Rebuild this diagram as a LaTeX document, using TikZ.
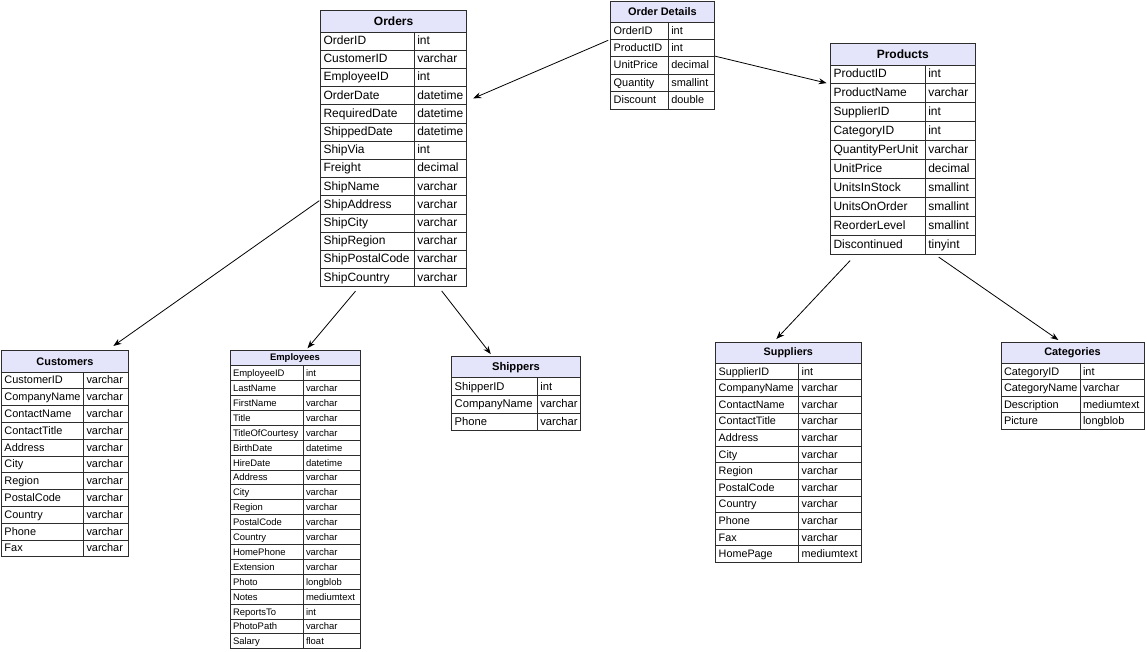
\documentclass[tikz,border=0pt]{standalone}
\usepackage{fontspec}
\setmainfont{Liberation Sans}
\usetikzlibrary{calc}
\usetikzlibrary{arrows.meta}
\definecolor{tabline}{RGB}{45,45,45}
\definecolor{hdrfill}{RGB}{228,228,250}
\tikzset{
    erd/.style={
            x=0.75pt,y=-0.75pt,
            tablebox/.style={draw=tabline,line width=0.75pt,inner sep=0pt,outer sep=0pt},
            tablehead/.style={draw=tabline,fill=hdrfill,line width=0.75pt,inner sep=0pt,outer sep=0pt},
            field/.style={draw=tabline,line width=0.75pt,inner xsep=2.25pt,inner ysep=0pt,outer sep=0pt,
                    align=left,text height=0.72em,text depth=0.2em},
            fk/.style={-{Stealth[length=6pt,width=4.5pt]},line width=0.6pt}
        }
    }
% name, top left, field width, type width, head height, row height, font size, title, rows
\newcommand{\dbtable}[9]{%
    \begin{scope}[font=\fontsize{#7pt}{#7pt}\selectfont]
    \pgfmathsetlengthmacro\tabw{(#3+#4)*0.75pt}
    \pgfmathsetlengthmacro\fldw{(#3-6)*0.75pt}
    \pgfmathsetlengthmacro\typw{(#4-6)*0.75pt}
    \pgfmathsetlengthmacro\hdh{#5*0.75pt}
    \pgfmathsetlengthmacro\rowh{#6*0.75pt}
    \node[tablehead,minimum width=\tabw,minimum height=\hdh,anchor=north west] (#1-head) at #2 {\bfseries #8};
    \foreach \fld/\typ [count=\i] in {#9} {
        \node[field,text width=\fldw,minimum height=\rowh,anchor=north west] (#1-f\i) at ($(#1-head.south west)+(0,{(\i-1)*#6})$) {\fld};
        \node[field,text width=\typw,minimum height=\rowh,anchor=north west] (#1-t\i) at (#1-f\i.north east) {\typ};
        \xdef\nrows{\i}
    }
    \pgfmathsetlengthmacro\tabh{(#5+\nrows*#6)*0.75pt}
    \node[tablebox,minimum width=\tabw,minimum height=\tabh,anchor=north west] (#1) at #2 {};
    \end{scope}
}

\begin{document}
\begin{tikzpicture}[erd]
    \fill[white] (0,0) rectangle (1147,651);
    \dbtable{orders}{(320.5,10.5)}{93.8}{52.4}{21.5}{18.2}{9}{Orders}{OrderID/int, CustomerID/varchar,
        EmployeeID/int, OrderDate/datetime, RequiredDate/datetime, ShippedDate/datetime, ShipVia/int,
        Freight/decimal, ShipName/varchar, ShipAddress/varchar, ShipCity/varchar, ShipRegion/varchar,
        ShipPostalCode/varchar, ShipCountry/varchar}
    \dbtable{od}{(610.7,1)}{57.6}{45.7}{21}{17.4}{8.2}{Order Details}{OrderID/int, ProductID/int,
        UnitPrice/decimal, Quantity/smallint, Discount/double}
    \dbtable{products}{(830.5,43.7)}{94.8}{49.7}{21.3}{18.95}{9}{Products}{ProductID/int,
        ProductName/varchar, SupplierID/int, CategoryID/int, QuantityPerUnit/varchar, UnitPrice/decimal,
        UnitsInStock/smallint, UnitsOnOrder/smallint, ReorderLevel/smallint, Discontinued/tinyint}
    \dbtable{customers}{(1.5,350.7)}{82}{45}{21.3}{16.8}{8.2}{Customers}{CustomerID/varchar,
        CompanyName/varchar, ContactName/varchar, ContactTitle/varchar, Address/varchar, City/varchar,
        Region/varchar, PostalCode/varchar, Country/varchar, Phone/varchar, Fax/varchar}
    \dbtable{employees}{(230,350.7)}{73}{57}{15}{14.9}{7.1}{Employees}{EmployeeID/int, LastName/varchar,
        FirstName/varchar, Title/varchar, TitleOfCourtesy/varchar, BirthDate/datetime, HireDate/datetime,
        Address/varchar, City/varchar, Region/varchar, PostalCode/varchar, Country/varchar,
        HomePhone/varchar, Extension/varchar, Photo/longblob, Notes/mediumtext, ReportsTo/int,
        PhotoPath/varchar, Salary/float}
    \dbtable{shippers}{(451.7,356.7)}{85.6}{43}{21}{17.7}{8.4}{Shippers}{ShipperID/int,
        CompanyName/varchar, Phone/varchar}
    \dbtable{suppliers}{(715.7,342.7)}{83}{62.3}{20.6}{16.6}{8.1}{Suppliers}{SupplierID/int,
        CompanyName/varchar, ContactName/varchar, ContactTitle/varchar, Address/varchar, City/varchar,
        Region/varchar, PostalCode/varchar, Country/varchar, Phone/varchar, Fax/varchar,
        HomePage/mediumtext}
    \dbtable{categories}{(1001,342.3)}{79}{64}{21}{16.5}{8.2}{Categories}{CategoryID/int,
        CategoryName/varchar, Description/mediumtext, Picture/longblob}
    \draw [fk,shorten <=2pt,shorten >=5.3pt] (od.163.5) -- (orders.33);
    \draw [fk,shorten <=0.7pt,shorten >=3pt] (od.-1) -- (products.138);
    \draw [fk,shorten <=1.1pt,shorten >=6.2pt] (orders.215) -- (customers.68.7);
    \draw [fk,shorten <=4.2pt,shorten >=2.4pt] (orders.256.5) -- (employees.86.3);
    \draw [fk,shorten <=3.9pt,shorten >=2.5pt] (orders.288.6) -- (shippers.122);
    \draw [fk,shorten <=6.2pt,shorten >=3.8pt] (products.246) -- (suppliers.98.2);
    \draw [fk,shorten <=3.4pt,shorten >=3pt] (products.287.1) -- (categories.104.1);
\end{tikzpicture}
\end{document}
